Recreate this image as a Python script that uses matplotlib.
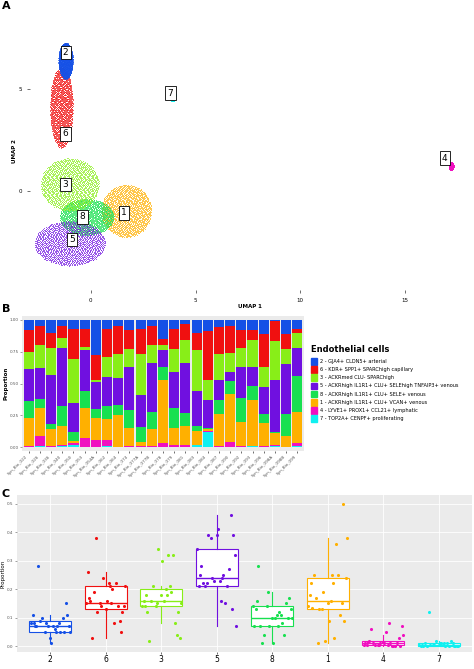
import numpy as np
import matplotlib
matplotlib.use("Agg")
import matplotlib.pyplot as plt

# ---------------- data ----------------
clusters = ["2", "6", "3", "5", "8", "1", "4", "7"]
colors = {"2": "#1550e6", "6": "#f01010", "3": "#88ee18", "5": "#7010e0",
          "8": "#18e050", "1": "#ffb000", "4": "#f010c0", "7": "#10f0f0"}
legend_labels = ["2 - GJA4+ CLDN5+ arterial",
                 "6 - KDR+ SPP1+ SPARChigh capillary",
                 "3 - ACKRmed CLU- SPARChigh",
                 "5 - ACKRhigh IL1R1+ CLU+ SELEhigh TNFAIP3+ venous",
                 "8 - ACKRhigh IL1R1+ CLU+ SELE+ venous",
                 "1 - ACKRhigh IL1R1+ CLU+ VCAN+ venous",
                 "4 - LYVE1+ PROX1+ CCL21+ lymphatic",
                 "7 - TOP2A+ CENPF+ proliferating"]
samples = ["Syn_Bio_022", "Syn_Bio_026", "Syn_Bio_036", "Syn_Bio_040", "Syn_Bio_050",
           "Syn_Bio_053", "Syn_Bio_054A", "Syn_Bio_062", "Syn_Bio_064", "Syn_Bio_074",
           "Syn_Bio_077A", "Syn_Bio_077B", "Syn_Bio_078", "Syn_Bio_079", "Syn_Bio_081",
           "Syn_Bio_083", "Syn_Bio_084", "Syn_Bio_087", "Syn_Bio_090", "Syn_Bio_092",
           "Syn_Bio_093", "Syn_Bio_096", "Syn_Bio_098A", "Syn_Bio_098B", "Syn_Bio_099"]
# cumulative tops (stack order bottom->top: 7,4,1,8,5,3,6 ; 2 fills to 1.0)
cum_7 = [.005,.01,.005,.01,.02,.0,.0,.01,.0,.005,.0,.005,.0,.0,.005,.02,.12,.005,.0,.005,.01,.0,.01,.0,.01]
cum_4 = [.01,.09,.01,.02,.03,.07,.06,.06,.0,.01,.01,.01,.03,.015,.02,.02,.13,.01,.04,.01,.01,.01,.02,.0,.03]
cum_1 = [.23,.31,.14,.17,.05,.31,.23,.22,.25,.15,.04,.14,.53,.15,.17,.13,.14,.26,.42,.20,.37,.19,.11,.09,.28]
cum_8 = [.36,.38,.18,.32,.12,.44,.30,.32,.33,.29,.16,.28,.63,.31,.27,.17,.15,.37,.52,.39,.48,.26,.12,.26,.56]
cum_5 = [.61,.62,.57,.78,.35,.76,.51,.55,.54,.63,.41,.66,.76,.59,.66,.44,.37,.53,.59,.63,.63,.47,.53,.65,.78]
cum_3 = [.75,.80,.78,.86,.69,.79,.53,.71,.73,.77,.73,.80,.80,.77,.84,.76,.53,.73,.74,.78,.84,.63,.83,.77,.90]
cum_6 = [.92,.95,.90,.95,.93,.93,.72,.93,.95,.92,.93,.95,.85,.93,.97,.90,.91,.94,.95,.92,.92,.89,.99,.89,.93]
jitter = [-.3,.1,-.15,.25,-.05,.33,-.22,.05,.18,-.35,.12,-.1,.28,-.28,0.,.22,-.18,.08,.35,-.08,.15,-.32,.02,.3,-.25]

# UMAP cluster region descriptors (centre x, centre y, half-width, half-height)
umap_c = {"2": (-1.2, 6.4, 0.35, 0.9), "6": (-1.4, 4.1, 0.55, 2.0), "3": (-1.0, 0.3, 1.4, 1.3),
          "8": (-0.2, -1.3, 1.3, 0.9), "1": (1.7, -1.0, 1.2, 1.3), "5": (-1.0, -2.6, 1.7, 1.1),
          "7": (3.9, 4.7, 0.15, 0.3), "4": (17.2, 1.2, 0.12, 0.2)}
umap_lbl = {"2": (-1.2, 6.8), "6": (-1.2, 2.8), "3": (-1.2, 0.3), "8": (-0.4, -1.3),
            "1": (1.6, -1.1), "5": (-0.9, -2.4), "7": (3.8, 4.8), "4": (16.9, 1.6)}

vals = {}
cums = [np.zeros(25), cum_7, cum_4, cum_1, cum_8, cum_5, cum_3, cum_6, np.ones(25)]
order = ["7", "4", "1", "8", "5", "3", "6", "2"]
for i, c in enumerate(order):
    vals[c] = np.array(cums[i + 1]) - np.array(cums[i])

fig = plt.figure(figsize=(4.74, 6.69), dpi=100)
W, H = 474, 669
def ax_at(l, t, r, b):
    return fig.add_axes([l / W, 1 - b / H, (r - l) / W, (b - t) / H])

# ---------------- Panel A ----------------
axA = ax_at(30, 12, 470, 290)
for c in order:
    cx, cy, hw, hh = umap_c[c]
    g = np.linspace(-1, 1, 45)
    X, Y = np.meshgrid(g, g)
    X = X + 0.02 * np.sin(Y * 37)
    Y = Y + 0.02 * np.cos(X * 41)
    m = X**2 + Y**2 <= 1
    axA.scatter(cx + hw * X[m], cy + hh * Y[m], s=0.3, color=colors[c], lw=0, zorder=2)
for c, (x, y) in umap_lbl.items():
    axA.text(x, y, c, fontsize=6.5, ha="center", va="center", zorder=3,
             bbox=dict(boxstyle="square,pad=0.25", fc="white", ec="black", lw=0.6))
axA.set_xlim(-2.9, 18.1); axA.set_ylim(-4.9, 8.8)
axA.set_xticks([0, 5, 10, 15]); axA.set_yticks([0, 5])
axA.tick_params(labelsize=4, length=2, width=0.4)
axA.set_xlabel("UMAP 1", fontsize=4, fontweight="bold", labelpad=1)
axA.set_ylabel("UMAP 2", fontsize=4, fontweight="bold", labelpad=1)
for s in axA.spines.values():
    s.set_visible(False)
fig.text(2 / W, 1 - 9 / H, "A", fontsize=8, fontweight="bold")

# ---------------- Panel B ----------------
axB = ax_at(22, 316, 304, 451)
axB.set_facecolor("#ebebeb")
xs = np.arange(25)
bottom = np.zeros(25)
for c in order:
    axB.bar(xs, vals[c], bottom=bottom, width=0.9, color=colors[c], lw=0)
    bottom += vals[c]
axB.set_xlim(-0.6, 24.6); axB.set_ylim(-0.03, 1.03)
axB.set_yticks([0, .25, .5, .75, 1.0])
axB.set_yticklabels(["0.00", "0.25", "0.50", "0.75", "1.00"])
axB.set_xticks(xs)
axB.set_xticklabels(samples, rotation=45, ha="right", fontsize=3, color="#555555")
axB.tick_params(axis="y", labelsize=3, length=1.5, width=0.4, colors="#555555", pad=1)
axB.tick_params(axis="x", length=1.5, width=0.4, pad=1)
axB.set_ylabel("Proportion", fontsize=4, fontweight="bold", labelpad=1)
for s in axB.spines.values():
    s.set_visible(False)
fig.text(2 / W, 1 - 312 / H, "B", fontsize=8, fontweight="bold")
fig.text(311 / W, 1 - 352 / H, "Endothelial cells", fontsize=6, fontweight="bold")
for i, lab in enumerate(legend_labels):
    y = 358 + i * 8.2
    c = lab.split(" ")[0]
    fig.patches.append(plt.Rectangle((311 / W, 1 - (y + 6.5) / H), 6 / W, 6.5 / H,
                                     color=colors[c], transform=fig.transFigure))
    fig.text(320 / W, 1 - (y + 3.3) / H, lab, fontsize=3.6, va="center")

# ---------------- Panel C ----------------
axC = ax_at(17, 495, 472, 652)
axC.set_facecolor("#ebebeb")
axC.grid(color="white", lw=0.6); axC.set_axisbelow(True)
for i, c in enumerate(clusters):
    v = vals[c]
    col = colors[c]
    axC.boxplot([v], positions=[i], widths=0.75, showfliers=False, patch_artist=True,
                boxprops=dict(facecolor="white", edgecolor=col, lw=0.8),
                medianprops=dict(color=col, lw=1), whiskerprops=dict(color=col, lw=0.8),
                capprops=dict(lw=0))
    axC.scatter(i + np.array(jitter), v, s=5, color=col, lw=0, zorder=3)
axC.set_xlim(-0.6, 7.6); axC.set_ylim(-0.02, 0.53)
axC.set_xticks(range(8)); axC.set_xticklabels(clusters, fontsize=5.5)
axC.set_yticks([0, .1, .2, .3, .4, .5])
axC.tick_params(axis="y", labelsize=3, length=1.5, width=0.4, colors="#555555", pad=1)
axC.tick_params(axis="x", length=1.5, width=0.4, pad=1)
axC.set_ylabel("Proportion", fontsize=4, labelpad=1)
for s in axC.spines.values():
    s.set_visible(False)
fig.text(2 / W, 1 - 497 / H, "C", fontsize=8, fontweight="bold")

fig.savefig("out.png", dpi=100)
